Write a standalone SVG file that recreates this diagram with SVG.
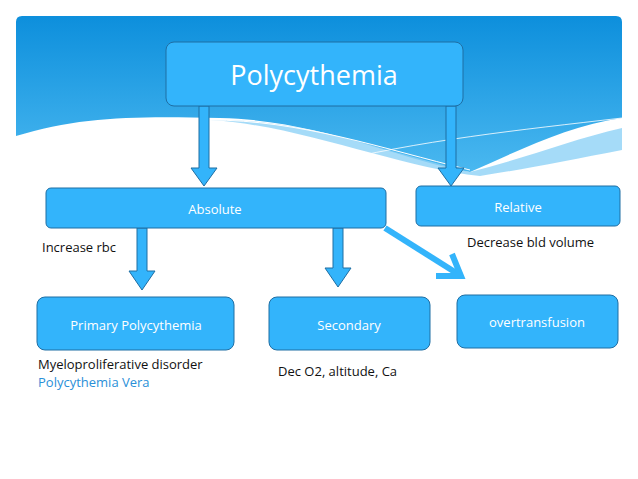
<svg xmlns="http://www.w3.org/2000/svg" width="638" height="479" viewBox="0 0 638 479">
<defs>
<linearGradient id="sky" x1="0" y1="0" x2="0" y2="1"><stop offset="0" stop-color="#0d8fdc"/><stop offset="1" stop-color="#4ab8f0"/></linearGradient>
<style>
.box{fill:#33b4fb;stroke:#1f6ea3;stroke-width:1}
.arr{fill:#33b4fb;stroke:#1f6ea3;stroke-width:1}
.wt{fill:#fff;font-family:"Open Sans","Liberation Sans",sans-serif;text-anchor:middle}
.bt{fill:#111;font-family:"Open Sans","Liberation Sans",sans-serif;font-size:13px}
</style>
</defs>
<rect width="638" height="479" fill="#fff"/>
<path d="M22,16 H616 Q622,16 622,22 V118 C570,125 520,150 470,172 C400,160 320,120 220,118 C140,116 80,116 16,136 V22 Q16,16 22,16 Z" fill="url(#sky)"/>
<path d="M210,120 C300,118 380,150 470,172 C520,160 570,140 622,128 V150 C570,160 520,170 480,176 C400,168 300,125 210,120 Z" fill="#8fd2f6" opacity="0.8"/>
<path d="M210,120 C300,120 380,148 470,170" fill="none" stroke="#fff" stroke-width="1"/>
<path d="M320,165 C420,140 520,130 622,118" fill="none" stroke="#fff" stroke-width="0.8"/>
<g id="connectors">
<path class="arr" d="M199,106 H209 V168 H217 L204,186 L191,168 H199 Z"/>
<path class="arr" d="M446,106 H456 V168 H464 L451,186 L438,168 H446 Z"/>
<path class="arr" d="M137,228 H147 V271 H155 L142,290 L129,271 H137 Z"/>
<path class="arr" d="M333,228 H343 V268 H351 L338,287 L325,268 H333 Z"/>
<path d="M385,228 L458,274" stroke="#33b4fb" stroke-width="6" fill="none"/>
<path d="M436,276 L461,276 L452,254" stroke="#33b4fb" stroke-width="6" fill="none"/>
</g>
<g id="polycythemia"><rect class="box" x="166" y="42" width="297" height="64" rx="8"/><text class="wt" x="314" y="85" font-size="27">Polycythemia</text></g>
<g id="absolute"><rect class="box" x="46" y="188" width="340" height="40" rx="5"/><text class="wt" x="215" y="214" font-size="13">Absolute</text></g>
<g id="relative"><rect class="box" x="416" y="186" width="204" height="40" rx="5"/><text class="wt" x="518" y="212" font-size="13">Relative</text></g>
<g id="primary"><rect class="box" x="37" y="297" width="197" height="53" rx="8"/><text class="wt" x="136" y="330" font-size="13">Primary Polycythemia</text></g>
<g id="secondary"><rect class="box" x="269" y="297" width="161" height="53" rx="8"/><text class="wt" x="349" y="330" font-size="13">Secondary</text></g>
<g id="overtransfusion"><rect class="box" x="457" y="295" width="161" height="53" rx="8"/><text class="wt" x="537" y="327" font-size="13">overtransfusion</text></g>
<text class="bt" x="42" y="252">Increase rbc</text>
<text class="bt" x="467" y="247">Decrease bld volume</text>
<text class="bt" x="38" y="369">Myeloproliferative disorder</text>
<text class="bt" x="38" y="387" style="fill:#2a8fd8">Polycythemia Vera</text>
<text class="bt" x="278" y="376">Dec O2, altitude, Ca</text>
</svg>
